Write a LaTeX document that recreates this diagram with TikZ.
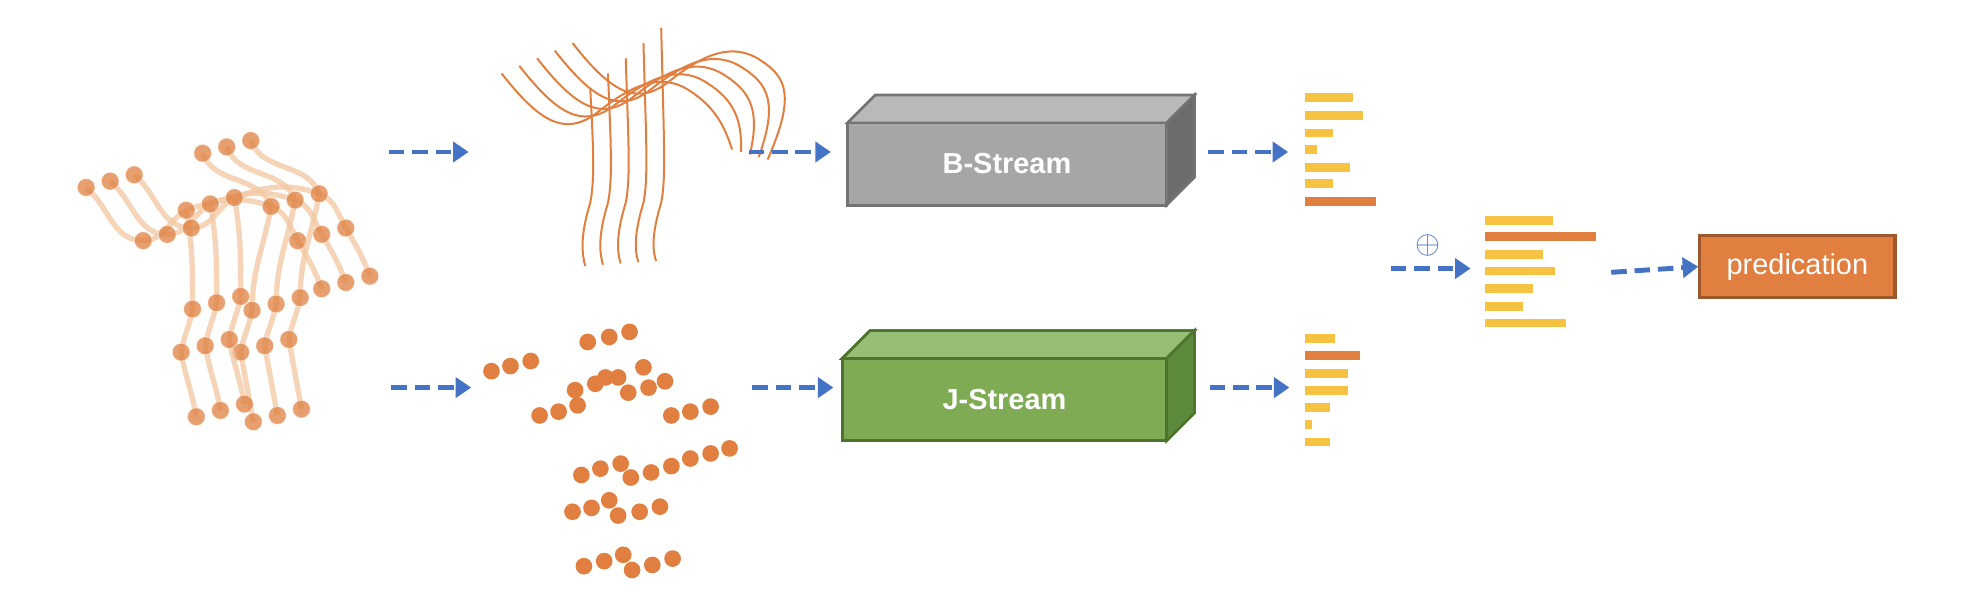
\documentclass[tikz,border=0pt]{standalone}
\usepackage{fontspec}
\setmainfont{Liberation Sans}
\usetikzlibrary{arrows.meta}
\definecolor{ar}{HTML}{4472C4}
\definecolor{og}{HTML}{E07F3F}
\definecolor{ye}{HTML}{F5C242}
\definecolor{sk}{HTML}{F2C9A6}
\begin{document}
\begin{tikzpicture}[x=0.02cm,y=-0.02cm,
  flow/.style={ar,line width=2.2pt,dash pattern=on 7pt off 3.5pt,-{Triangle[length=7pt,width=9pt]}},
  jt/.style={circle,fill=og,fill opacity=0.75,draw=white,draw opacity=0.5,line width=0.4pt,inner sep=0pt,minimum size=8pt},
  dt/.style={circle,fill=og,inner sep=0pt,minimum size=7.5pt},
  bone/.style={sk,line width=2.4pt,opacity=0.8},
  crv/.style={og,line width=0.9pt},
  bar/.style={fill=ye,draw=none},
  barO/.style={fill=og,draw=none},
  lbl/.style={font=\fontsize{13}{15}\selectfont\bfseries,text=white}]
\useasboundingbox (0,0) rectangle (1560,469);
% skeleton
\foreach \i in {0,1,2}{
 \begin{scope}[shift={(19*\i,-5*\i)}]
  \coordinate (H) at (160,121); \coordinate (SL) at (147,166); \coordinate (SR) at (214,163);
  \coordinate (EL) at (113,190); \coordinate (HL) at (68,148); \coordinate (ER) at (235,190);
  \coordinate (HR) at (254,228); \coordinate (PL) at (152,244); \coordinate (PR) at (199,245);
  \coordinate (KL) at (143,278); \coordinate (KR) at (190,278); \coordinate (FL) at (155,329); \coordinate (FR) at (200,333);
  \draw[bone] (HL) to[out=-40,in=180] (EL) to[out=0,in=-150] (SL);
  \draw[bone] (H) to[out=-70,in=110] (SR);
  \draw[bone] (SL) to[out=20,in=160] (SR) to[out=-20,in=120] (ER) to[out=-60,in=110] (HR);
  \draw[bone] (SL) to[out=-80,in=90] (PL) to[out=-100,in=80] (KL) to[out=-80,in=100] (FL);
  \draw[bone] (SR) to[out=-100,in=90] (PR) to[out=-100,in=80] (KR) to[out=-80,in=100] (FR);
  \foreach \p in {H,SL,SR,EL,HL,ER,HR,PL,PR,KL,KR,FL,FR} \node[jt] at (\p) {};
 \end{scope}}
% curves
\foreach \i in {0,...,4}{
 \begin{scope}[shift={(14*\i,-6*\i)}]
  \draw[crv] (396,58) .. controls (425,95) and (445,108) .. (470,90) .. controls (495,70) and (520,55) .. (545,72) .. controls (565,85) and (572,100) .. (578-7*\i,118+8*\i);
 \end{scope}
 \draw[crv] (466+14*\i,70-12*\i) .. controls (468+14*\i,110) and (470+14*\i,140) .. (466+14*\i,160) .. controls (460+14*\i,180) and (458+14*\i,195) .. (462+14*\i,210-\i);
}
% dots
\foreach \x/\y in {388/293,403/289,419/285,464/270,481/266,497/262,426/328,441/325,456/320,454/308,470/303,478/298,488/298,496/310,508/290,512/306,525/301,530/328,545/325,561/321,459/375,474/370,490/366,498/377,514/373,530/368,545/362,561/358,576/354,452/404,467/401,481/395,488/407,505/404,521/400,461/447,477/443,492/438,499/450,515/446,531/441}
  \node[dt] at (\x,\y) {};
% boxes
\fill[gray!55,draw=gray!90!black,line width=1.2pt] (669,97) -- (691,75) -- (943,75) -- (921,97) -- cycle;
\fill[gray!85!black,draw=gray!90!black,line width=1.2pt] (921,97) -- (943,75) -- (943,140) -- (921,162) -- cycle;
\node[fill=gray!70,draw=gray!90!black,line width=1.2pt,minimum width=252*0.02cm,minimum height=65*0.02cm,lbl] (B) at (795,129.5) {B-Stream};
\fill[green!35!olive!60!white,draw=green!30!black!70!olive,line width=1.2pt] (665,283) -- (687,261) -- (943,261) -- (921,283) -- cycle;
\definecolor{gd}{HTML}{5E8A3E}\definecolor{gm}{HTML}{7FAB55}\definecolor{gl}{HTML}{97BD74}\definecolor{gb}{HTML}{4E7330}
\fill[gl,draw=gb,line width=1.2pt] (665,283) -- (687,261) -- (943,261) -- (921,283) -- cycle;
\fill[gd,draw=gb,line width=1.2pt] (921,283) -- (943,261) -- (943,326) -- (921,348) -- cycle;
\node[fill=gm,draw=gb,line width=1.2pt,minimum width=256*0.02cm,minimum height=65*0.02cm,lbl] (J) at (793,315.5) {J-Stream};
% bars
\foreach \y/\w in {77/38,91/46,105/22,118/10,132/36,145/22} \fill[bar] (1030,\y-3.5) rectangle ++(\w,7);
\fill[barO] (1030,159-3.5) rectangle ++(56,7);
\foreach \y/\w in {267/24,295/34,308/34,322/20,335/6,349/20} \fill[bar] (1030,\y-3.5) rectangle ++(\w,7);
\fill[barO] (1030,281-3.5) rectangle ++(44,7);
\foreach \y/\w in {174/54,201/46,214/56,228/38,242/30,255/64} \fill[bar] (1172,\y-3.5) rectangle ++(\w,7);
\fill[barO] (1172,187-3.5) rectangle ++(88,7);
% prediction
\node[fill=og,draw=og!70!black,line width=1.4pt,minimum width=154*0.02cm,minimum height=49*0.02cm,font=\fontsize{13}{15}\selectfont,text=white] (P) at (1419,210.5) {predication};
\node[ar,font=\fontsize{14}{16}\selectfont] (plus) at (1127,194) {$\oplus$};
% arrows
\coordinate (a1) at (307,120); \coordinate (a2) at (370,120);
\coordinate (b1) at (591,120); \coordinate (b2) at (656,120);
\coordinate (c1) at (954,120); \coordinate (c2) at (1017,120);
\coordinate (d1) at (309,306); \coordinate (d2) at (372,306);
\coordinate (e1) at (594,306); \coordinate (e2) at (658,306);
\coordinate (f1) at (955,306); \coordinate (f2) at (1018,306);
\coordinate (g1) at (1098,212); \coordinate (g2) at (1161,212);
\coordinate (h1) at (1272,215);
\foreach \s/\t in {a1/a2,b1/b2,c1/c2,d1/d2,e1/e2,f1/f2,g1/g2} \draw[flow] (\s) -- (\t);
\draw[flow] (h1) -- (P.west);
\end{tikzpicture}
\end{document}
